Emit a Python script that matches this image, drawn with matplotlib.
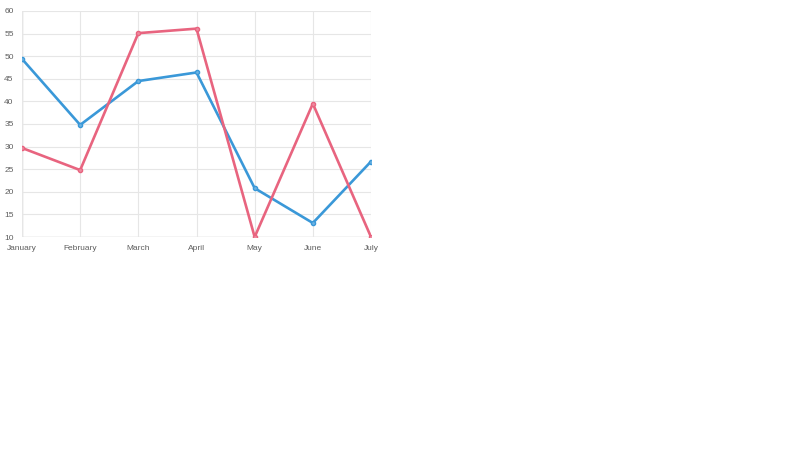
import matplotlib
matplotlib.use("Agg")
import matplotlib.pyplot as plt

plt.rcParams["font.family"] = ["Liberation Sans", "DejaVu Sans"]

months = ["January", "February", "March", "April", "May", "June", "July"]
blue_vals = [49.4, 34.8, 44.5, 46.4, 20.8, 13.1, 26.7]
red_vals = [29.7, 24.8, 55.1, 56.1, 10.0, 39.5, 10.0]
y_ticks = [10, 15, 20, 25, 30, 35, 40, 45, 50, 55, 60]

fig = plt.figure(figsize=(8, 4.5), dpi=100)
ax = fig.add_axes([22 / 800, 1 - 237 / 450, (371 - 22) / 800, (237 - 11) / 450])

x = list(range(len(months)))
ax.plot(x, blue_vals, color="#3a98d8", lw=1.9, marker="o", ms=3,
        markerfacecolor="#6cb2e2", markeredgecolor="#3a98d8", zorder=3)
ax.plot(x, red_vals, color="#e8647f", lw=1.9, marker="o", ms=3,
        markerfacecolor="#ee8aa0", markeredgecolor="#e8647f", zorder=3)

ax.set_xlim(0, len(months) - 1)
ax.set_ylim(10, 60)
ax.set_xticks(x)
ax.set_xticklabels(months)
ax.set_yticks(y_ticks)
ax.grid(True, color="#e6e6e6", lw=0.8)
ax.tick_params(length=0, labelsize=6, colors="#5e5e5e", pad=6)
ax.tick_params(axis="y", pad=6)
for s in ax.spines.values():
    s.set_visible(False)
ax.axhline(10, color="#d0d0d0", lw=1, zorder=1)
ax.axvline(0, color="#d0d0d0", lw=1, zorder=1)

fig.savefig("out.png", dpi=100)
